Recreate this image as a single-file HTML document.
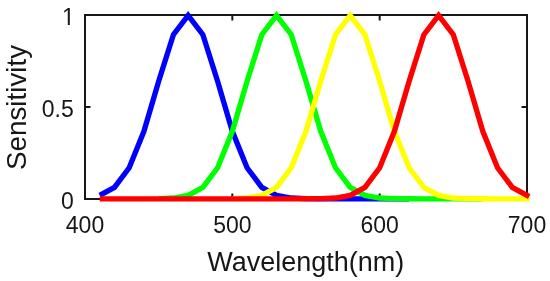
<!DOCTYPE html>
<html><head><meta charset="utf-8"><style>
html,body{margin:0;padding:0;background:#fff;}
svg{display:block;}
text{font-family:"Liberation Sans",Arial,sans-serif;fill:#171717;}
</style></head><body>
<div><svg width="550" height="281" viewBox="0 0 550 281">
<rect width="550" height="281" fill="#fff"/>
<g stroke="#171717" stroke-width="2" fill="none">
<rect x="85" y="15" width="442" height="184"/>
<line x1="85.00" y1="199" x2="85.00" y2="193.5"/>
<line x1="85.00" y1="15" x2="85.00" y2="20.5"/>
<line x1="232.33" y1="199" x2="232.33" y2="193.5"/>
<line x1="232.33" y1="15" x2="232.33" y2="20.5"/>
<line x1="379.67" y1="199" x2="379.67" y2="193.5"/>
<line x1="379.67" y1="15" x2="379.67" y2="20.5"/>
<line x1="527.00" y1="199" x2="527.00" y2="193.5"/>
<line x1="527.00" y1="15" x2="527.00" y2="20.5"/>
<line x1="85" y1="199.00" x2="90.5" y2="199.00"/>
<line x1="527" y1="199.00" x2="521.5" y2="199.00"/>
<line x1="85" y1="107.00" x2="90.5" y2="107.00"/>
<line x1="527" y1="107.00" x2="521.5" y2="107.00"/>
<line x1="85" y1="15.00" x2="90.5" y2="15.00"/>
<line x1="527" y1="15.00" x2="521.5" y2="15.00"/>
</g>
<defs>
<clipPath id="c1"><path clip-rule="evenodd" d="M50 0H80V40H50Z M55 22.58H67.79V27.10H55Z M69.82 22.58H80V27.10H69.82Z"/></clipPath>
<clipPath id="cb"><path clip-rule="evenodd" d="M0 0H550V281H0Z M409.1 196H540.0V202H409.1Z"/></clipPath>
<clipPath id="cg"><path clip-rule="evenodd" d="M0 0H550V281H0Z M90.0 196H158.7V202H90.0Z M482.8 196H540.0V202H482.8Z M158.7 199.5H188.1V202H158.7Z"/></clipPath>
<clipPath id="cy"><path clip-rule="evenodd" d="M0 0H550V281H0Z M90.0 196H232.3V202H90.0Z M232.3 199.5H261.8V202H232.3Z"/></clipPath>
</defs>
<g fill="none" stroke-width="5.33" stroke-linejoin="miter" stroke-linecap="butt">
<polyline clip-path="url(#cb)" stroke="#0000ff" points="99.73,195.44 114.47,187.40 129.20,167.80 143.93,131.33 158.67,81.21 173.40,34.69 188.13,15.40 202.87,34.69 217.60,81.21 232.33,131.33 247.07,167.80 261.80,187.40 276.53,195.44 291.27,198.01 306.00,198.65 320.73,198.78 335.47,198.80 350.20,198.80 364.93,198.80 379.67,198.80 394.40,198.80 409.13,198.80 423.87,198.80 438.60,198.80 453.33,198.80 468.07,198.80 482.80,198.80 497.53,198.80 512.27,198.80 527.00,198.80 529.50,198.80"/>
<polyline clip-path="url(#cg)" stroke="#00ff00" points="99.73,198.80 114.47,198.80 129.20,198.80 143.93,198.78 158.67,198.65 173.40,198.01 188.13,195.44 202.87,187.40 217.60,167.80 232.33,131.33 247.07,81.21 261.80,34.69 276.53,15.40 291.27,34.69 306.00,81.21 320.73,131.33 335.47,167.80 350.20,187.40 364.93,195.44 379.67,198.01 394.40,198.65 409.13,198.78 423.87,198.80 438.60,198.80 453.33,198.80 468.07,198.80 482.80,198.80 497.53,198.80 512.27,198.80 527.00,198.80 529.50,198.80"/>
<polyline clip-path="url(#cy)" stroke="#ffff00" points="99.73,198.80 114.47,198.80 129.20,198.80 143.93,198.80 158.67,198.80 173.40,198.80 188.13,198.80 202.87,198.80 217.60,198.78 232.33,198.65 247.07,198.01 261.80,195.44 276.53,187.40 291.27,167.80 306.00,131.33 320.73,81.21 335.47,34.69 350.20,15.40 364.93,34.69 379.67,81.21 394.40,131.33 409.13,167.80 423.87,187.40 438.60,195.44 453.33,198.01 468.07,198.65 482.80,198.78 497.53,198.80 512.27,198.80 527.00,198.80 529.50,198.80"/>
<polyline stroke="#ff0000" points="99.73,198.80 114.47,198.80 129.20,198.80 143.93,198.80 158.67,198.80 173.40,198.80 188.13,198.80 202.87,198.80 217.60,198.80 232.33,198.80 247.07,198.80 261.80,198.80 276.53,198.80 291.27,198.80 306.00,198.78 320.73,198.65 335.47,198.01 350.20,195.44 364.93,187.40 379.67,167.80 394.40,131.33 409.13,81.21 423.87,34.69 438.60,15.40 453.33,34.69 468.07,81.21 482.80,131.33 497.53,167.80 512.27,187.40 527.00,195.44 529.19,196.64"/>
</g>
<g font-size="23" text-anchor="end">
<text x="74.8" y="25.10" clip-path="url(#c1)">1</text>
<text x="73.8" y="117.1">0.5</text>
<text x="73.8" y="209.1">0</text>
</g>
<g font-size="23" text-anchor="middle">
<text x="85.00" y="232.9">400</text>
<text x="232.33" y="232.9">500</text>
<text x="379.67" y="232.9">600</text>
<text x="527.00" y="232.9">700</text>
</g>
<text font-size="27" text-anchor="middle" x="305.7" y="271.4">Wavelength(nm)</text>
<text font-size="27.8" text-anchor="middle" transform="translate(26.1,107.45) rotate(-90)">Sensitivity</text>
</svg></div>
</body></html>
